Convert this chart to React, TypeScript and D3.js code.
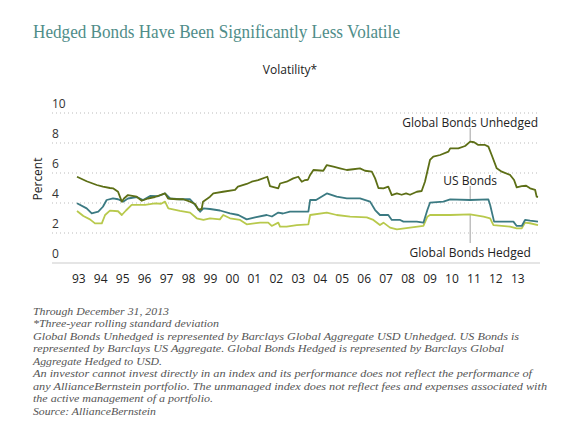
import React from 'react';
import * as d3 from 'd3';

// [decimal year, volatility %]
const unhedged: [number, number][] = [
  [1992.92, 5.75], [1993.36, 5.45], [1993.82, 5.2], [1994.1, 5.09], [1994.42, 5.0], [1994.56, 4.98],
  [1994.79, 4.75], [1994.96, 4.09], [1995.06, 4.3], [1995.24, 4.53], [1995.64, 4.42], [1995.87, 4.15],
  [1996.15, 4.3], [1996.47, 4.4], [1996.93, 4.64], [1997.07, 4.3], [1997.46, 4.25], [1997.76, 4.25],
  [1998.07, 4.09], [1998.3, 3.93], [1998.45, 3.55], [1998.6, 3.6], [1998.66, 4.09], [1998.98, 4.42],
  [1999.13, 4.64], [1999.57, 4.75], [2000.12, 4.87], [2000.25, 5.09], [2000.65, 5.27], [2000.88, 5.42],
  [2001.17, 5.53], [2001.59, 5.75], [2001.71, 5.13], [2002.09, 4.98], [2002.17, 5.3], [2002.47, 5.42],
  [2002.77, 5.64], [2003.0, 5.75], [2003.16, 5.42], [2003.31, 5.53], [2003.44, 5.55], [2003.54, 5.87],
  [2003.69, 6.2], [2004.14, 6.15], [2004.3, 6.53], [2004.6, 6.42], [2004.9, 6.31], [2005.21, 6.2],
  [2005.5, 6.25], [2005.81, 6.31], [2006.04, 6.15], [2006.35, 6.09], [2006.5, 5.64], [2006.65, 5.0],
  [2006.88, 4.98], [2007.1, 5.09], [2007.26, 4.53], [2007.49, 4.64], [2007.71, 4.55], [2007.91, 4.64],
  [2008.09, 4.55], [2008.4, 4.75], [2008.62, 4.8], [2008.77, 5.42], [2009.0, 6.87], [2009.15, 7.09],
  [2009.46, 7.2], [2009.84, 7.42], [2009.92, 7.64], [2010.29, 7.64], [2010.6, 7.8], [2010.83, 8.09],
  [2011.01, 8.05], [2011.2, 7.87], [2011.51, 7.87], [2011.66, 7.76], [2011.81, 7.2], [2012.04, 6.31],
  [2012.27, 6.09], [2012.65, 5.87], [2012.83, 5.53], [2012.95, 5.04], [2013.18, 5.13], [2013.38, 5.15],
  [2013.56, 4.98], [2013.79, 4.87], [2013.86, 4.42], [2013.92, 4.4],
];

const usBonds: [number, number][] = [
  [1992.92, 3.98], [1993.36, 3.64], [1993.59, 3.31], [1993.89, 3.42], [1994.1, 3.75], [1994.27, 4.2],
  [1994.56, 4.31], [1994.79, 4.25], [1995.02, 4.09], [1995.24, 4.3], [1995.64, 4.4], [1995.93, 4.2],
  [1996.25, 4.47], [1996.61, 4.45], [1996.93, 4.64], [1997.16, 4.3], [1997.61, 4.25], [1998.07, 4.25],
  [1998.3, 3.87], [1998.53, 3.42], [1998.68, 3.64], [1998.98, 3.6], [1999.43, 3.5], [1999.89, 3.31],
  [2000.27, 3.2], [2000.65, 2.91], [2001.03, 3.04], [2001.56, 3.2], [2001.8, 3.1], [2002.09, 3.36],
  [2002.3, 3.3], [2002.62, 3.42], [2003.08, 3.42], [2003.46, 3.42], [2003.54, 4.2], [2003.81, 4.2],
  [2004.3, 4.64], [2004.75, 4.42], [2005.21, 4.31], [2005.81, 4.31], [2006.27, 4.09], [2006.5, 3.53],
  [2006.72, 3.2], [2007.1, 3.2], [2007.26, 2.87], [2007.64, 2.87], [2007.79, 2.76], [2008.4, 2.76],
  [2008.7, 2.69], [2008.88, 3.53], [2009.0, 4.02], [2009.61, 4.09], [2009.92, 4.24], [2010.83, 4.2],
  [2011.66, 4.24], [2011.74, 3.87], [2011.92, 2.76], [2012.34, 2.76], [2012.8, 2.76], [2012.95, 2.47],
  [2013.18, 2.47], [2013.33, 2.87], [2013.56, 2.82], [2013.92, 2.76],
];

const hedged: [number, number][] = [
  [1992.92, 3.47], [1993.21, 3.13], [1993.51, 2.91], [1993.74, 2.64], [1994.05, 2.64], [1994.2, 3.2],
  [1994.42, 3.49], [1994.79, 3.45], [1994.96, 3.2], [1995.15, 3.5], [1995.41, 3.87], [1996.02, 3.87],
  [1996.47, 3.98], [1996.75, 3.95], [1996.93, 4.09], [1997.08, 3.64], [1997.61, 3.48], [1998.07, 3.36],
  [1998.37, 2.98], [1998.68, 2.87], [1998.98, 2.98], [1999.43, 2.91], [1999.58, 3.2], [1999.89, 2.98],
  [2000.35, 2.87], [2000.65, 2.58], [2001.26, 2.69], [2001.63, 2.69], [2001.79, 2.47], [2002.09, 2.69],
  [2002.17, 2.42], [2002.47, 2.42], [2002.93, 2.53], [2003.46, 2.58], [2003.54, 3.2], [2004.3, 3.36],
  [2004.75, 3.2], [2005.36, 3.09], [2006.12, 3.04], [2006.42, 2.87], [2006.72, 2.53], [2006.88, 2.69],
  [2007.18, 2.36], [2007.49, 2.24], [2008.09, 2.36], [2008.7, 2.47], [2008.88, 3.09], [2009.0, 3.2],
  [2009.92, 3.2], [2010.83, 3.24], [2011.44, 3.09], [2011.74, 2.98], [2011.89, 2.53], [2012.65, 2.42],
  [2012.95, 2.31], [2013.18, 2.31], [2013.33, 2.69], [2013.56, 2.65], [2013.92, 2.53],
];

const yearTicks = d3.range(1993, 2014);
const yTicks = [0, 2, 4, 6, 8, 10];
const annotYear = 2010.83;

const footnotes = [
  'Through December 31, 2013',
  '*Three-year rolling standard deviation',
  'Global Bonds Unhedged  is represented by Barclays Global Aggregate USD Unhedged. US Bonds is',
  'represented by Barclays US Aggregate. Global Bonds Hedged is represented by Barclays Global',
  'Aggregate Hedged to USD.',
  'An investor cannot invest directly in an index and its performance does not reflect the performance of',
  'any AllianceBernstein portfolio. The unmanaged index does not reflect fees and expenses associated with',
  'the active management of a portfolio.',
  'Source: AllianceBernstein',
];
const footWidths = [136, 186, 486, 471, 129, 499, 514, 180, 123];

const sans = '"Open Sans", "Noto Sans", sans-serif';
const serif = '"Liberation Serif", "DejaVu Serif", serif';

const App = () => {
  const x = d3.scaleLinear().domain([1992.92, 2013.92]).range([77, 538]);
  const y = d3.scaleLinear().domain([0, 10]).range([263, 113]);
  const line = d3.line<[number, number]>().x(d => x(d[0])).y(d => y(d[1]));

  const series = [
    { data: hedged, color: '#b8c94c' },
    { data: usBonds, color: '#3b7a82' },
    { data: unhedged, color: '#5d6f16' },
  ];

  const ax = x(annotYear);

  return (
    <svg width={580} height={444} style={{ position: 'absolute', left: 0, top: 0, background: '#fff' }}>
      <text x={33} y={38} fontFamily={serif} fontSize={18} fill="#4f8d89" textLength={367} lengthAdjust="spacingAndGlyphs">
        Hedged Bonds Have Been Significantly Less Volatile
      </text>
      <text x={290} y={74} fontFamily={sans} fontSize={12} fill="#222" textAnchor="middle">Volatility*</text>
      <text transform="translate(42,179) rotate(-90)" fontFamily={sans} fontSize={12} fill="#222" textAnchor="middle">Percent</text>

      {yTicks.map(t => (
        <g key={t}>
          {t > 0 && (
            <line x1={52} x2={537} y1={y(t)} y2={y(t)} stroke="#bbb" strokeWidth={1} strokeDasharray="1,3" />
          )}
          <text x={52} y={y(t) - 5} fontFamily={sans} fontSize={12} fill="#333">{t}</text>
        </g>
      ))}
      <line x1={52} x2={540} y1={y(0)} y2={y(0)} stroke="#ddd" strokeWidth={1.5} />

      {yearTicks.map(yr => (
        <text key={yr} x={x(yr)} y={283} fontFamily={sans} fontSize={12} fill="#222" textAnchor="middle">
          {String(yr % 100).padStart(2, '0')}
        </text>
      ))}

      <line x1={ax} x2={ax} y1={128} y2={y(8.09)} stroke="#888" strokeWidth={0.8} />
      <line x1={ax} x2={ax} y1={186} y2={y(4.2)} stroke="#888" strokeWidth={0.8} />
      <line x1={ax} x2={ax} y1={y(3.24)} y2={243} stroke="#888" strokeWidth={0.8} />

      {series.map((s, i) => (
        <path key={i} d={line(s.data) || ''} fill="none" stroke={s.color} strokeWidth={1.8} strokeLinejoin="round" />
      ))}

      <text x={ax} y={127} fontFamily={sans} fontSize={12} fill="#222" textAnchor="middle">Global Bonds Unhedged</text>
      <text x={ax} y={185} fontFamily={sans} fontSize={12} fill="#222" textAnchor="middle">US Bonds</text>
      <text x={ax} y={257} fontFamily={sans} fontSize={12} fill="#222" textAnchor="middle">Global Bonds Hedged</text>

      {footnotes.map((f, i) => (
        <text key={i} x={33} y={315 + i * 12.45} fontFamily={serif} fontStyle="italic" fontSize={10.8} fill="#555"
          textLength={footWidths[i]} lengthAdjust="spacingAndGlyphs">
          {f}
        </text>
      ))}
    </svg>
  );
};

export default App;
